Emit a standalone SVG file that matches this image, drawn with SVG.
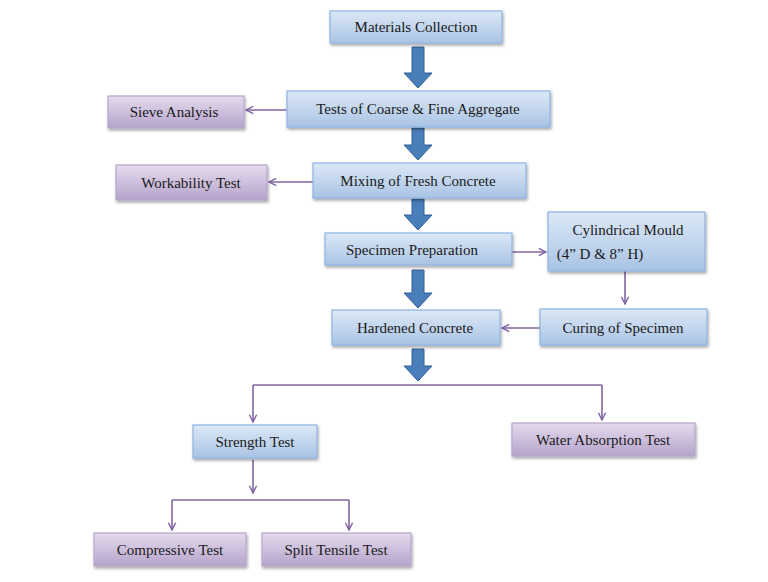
<svg xmlns="http://www.w3.org/2000/svg" width="768" height="582" viewBox="0 0 768 582">
<defs>
<linearGradient id="gb" x1="0" y1="0" x2="0" y2="1"><stop offset="0" stop-color="#dce8f6"/><stop offset="0.5" stop-color="#c3d6ee"/><stop offset="1" stop-color="#a9c3e4"/></linearGradient>
<linearGradient id="gp" x1="0" y1="0" x2="0" y2="1"><stop offset="0" stop-color="#e3dbec"/><stop offset="0.5" stop-color="#cdbfdd"/><stop offset="1" stop-color="#b5a3cb"/></linearGradient>
<filter id="sh" x="-10%" y="-20%" width="120%" height="150%"><feDropShadow dx="1" dy="2" stdDeviation="1.5" flood-color="#000" flood-opacity="0.35"/></filter>
<marker id="ah" viewBox="0 0 10 10" refX="9" refY="5" markerWidth="9" markerHeight="9" orient="auto" markerUnits="userSpaceOnUse"><path d="M1,1 L9,5 L1,9" fill="none" stroke="#8064a2" stroke-width="1.6"/></marker>
</defs>
<style>
.b{fill:url(#gb);stroke:#8eb4e3;stroke-width:1.2;filter:url(#sh)}
.p{fill:url(#gp);stroke:#b7a6cc;stroke-width:1.2;filter:url(#sh)}
text{font-family:"Liberation Serif","Times New Roman",serif;font-size:15px;fill:#1a1a1a;text-anchor:middle}
.c{fill:none;stroke:#8064a2;stroke-width:1.6}
.ba{fill:#4a7ebb;stroke:#2f5f96;stroke-width:1}
</style>
<rect width="768" height="582" fill="#fff"/>
<g id="connectors">
<path class="ba" d="M412,47 h12 v26 h8 l-14,15 l-14,-15 h8 z"/>
<path class="ba" d="M412,128 h12 v17 h8 l-14,15 l-14,-15 h8 z"/>
<path class="ba" d="M412,199 h12 v16 h8 l-14,15 l-14,-15 h8 z"/>
<path class="ba" d="M412,270 h12 v23 h8 l-14,15 l-14,-15 h8 z"/>
<path class="ba" d="M412,349 h12 v17 h8 l-14,15 l-14,-15 h8 z"/>
<path class="c" d="M287,110 H246" marker-end="url(#ah)"/>
<path class="c" d="M313,182 H269" marker-end="url(#ah)"/>
<path class="c" d="M512,252 H546" marker-end="url(#ah)"/>
<path class="c" d="M625,271 V304" marker-end="url(#ah)"/>
<path class="c" d="M540,328 H502" marker-end="url(#ah)"/>
<path class="c" d="M253,385 H602"/>
<path class="c" d="M253,385 V422" marker-end="url(#ah)"/>
<path class="c" d="M602,385 V420" marker-end="url(#ah)"/>
<path class="c" d="M253,460 V493" marker-end="url(#ah)"/>
<path class="c" d="M172,500 H349"/>
<path class="c" d="M172,500 V530" marker-end="url(#ah)"/>
<path class="c" d="M349,500 V530" marker-end="url(#ah)"/>
</g>
<g id="n1"><rect class="b" x="330" y="11" width="172" height="32"/><text x="416" y="32">Materials Collection</text></g>
<g id="n2"><rect class="b" x="287" y="91" width="263" height="36"/><text x="418" y="114">Tests of Coarse &amp; Fine Aggregate</text></g>
<g id="n3"><rect class="p" x="108" y="96" width="136" height="32"/><text x="174" y="117">Sieve Analysis</text></g>
<g id="n4"><rect class="b" x="313" y="163" width="213" height="35"/><text x="418" y="186">Mixing of Fresh Concrete</text></g>
<g id="n5"><rect class="p" x="116" y="165" width="151" height="35"/><text x="191" y="188">Workability Test</text></g>
<g id="n6"><rect class="b" x="325" y="233" width="187" height="32"/><text x="412" y="255">Specimen Preparation</text></g>
<g id="n7"><rect class="b" x="548" y="212" width="157" height="59"/><text x="628" y="235">Cylindrical Mould</text><text x="600" y="259">(4” D &amp; 8” H)</text></g>
<g id="n8"><rect class="b" x="332" y="310" width="168" height="35"/><text x="415" y="333">Hardened Concrete</text></g>
<g id="n9"><rect class="b" x="540" y="309" width="167" height="36"/><text x="623" y="333">Curing of Specimen</text></g>
<g id="n10"><rect class="b" x="193" y="425" width="124" height="33"/><text x="255" y="447">Strength Test</text></g>
<g id="n11"><rect class="p" x="512" y="423" width="183" height="33"/><text x="603" y="445">Water Absorption Test</text></g>
<g id="n12"><rect class="p" x="94" y="533" width="152" height="33"/><text x="170" y="555">Compressive Test</text></g>
<g id="n13"><rect class="p" x="262" y="533" width="149" height="33"/><text x="336" y="555">Split Tensile Test</text></g>
</svg>
